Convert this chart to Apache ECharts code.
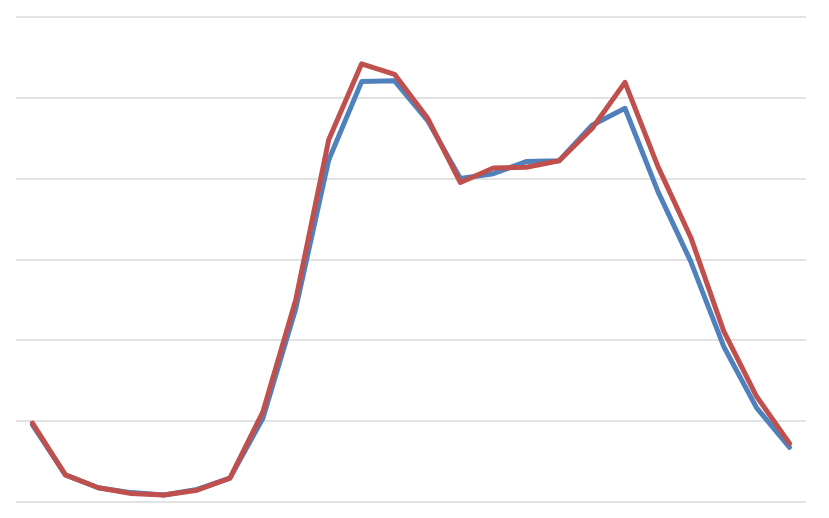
<!DOCTYPE html>
<html>
<head>
<meta charset="utf-8">
<script src="https://cdn.jsdelivr.net/npm/echarts@6/dist/echarts.min.js"></script>
<style>html,body{margin:0;padding:0;background:#fff;}#c{width:829px;height:518px;}</style>
</head>
<body>
<div id="c"></div>
<script>
const categories = ['0','1','2','3','4','5','6','7','8','9','10','11','12','13','14','15','16','17','18','19','20','21','22','23'];
const seriesBlue = [0.95,0.33,0.17,0.11,0.08,0.15,0.29,1.03,2.39,4.23,5.20,5.21,4.72,4.00,4.06,4.21,4.22,4.66,4.87,3.84,2.97,1.92,1.16,0.67];
const seriesRed  = [0.97,0.33,0.17,0.10,0.08,0.14,0.29,1.11,2.50,4.48,5.42,5.29,4.75,3.95,4.13,4.14,4.22,4.62,5.19,4.15,3.27,2.11,1.30,0.72];
const yMin = 0, yMax = 6, yStep = 1;

const chart = echarts.init(document.getElementById('c'));
chart.setOption({
  animation: false,
  backgroundColor: '#ffffff',
  grid: { left: 16, right: 23, top: 17, bottom: 16.5, containLabel: false },
  xAxis: {
    type: 'category', data: categories, boundaryGap: true,
    axisLine: { show: false }, axisTick: { show: false }, axisLabel: { show: false }, splitLine: { show: false }
  },
  yAxis: {
    type: 'value', min: yMin, max: yMax, interval: yStep,
    axisLine: { show: false }, axisTick: { show: false }, axisLabel: { show: false },
    splitLine: { show: true, lineStyle: { color: '#d9d9d9', width: 1.5 } }
  },
  series: [
    { type: 'line', data: seriesBlue, symbol: 'none', lineStyle: { color: '#4F81BD', width: 5, join: 'round', cap: 'round' }, itemStyle: { color: '#4F81BD' } },
    { type: 'line', data: seriesRed, symbol: 'none', lineStyle: { color: '#C0504D', width: 5, join: 'round', cap: 'round' }, itemStyle: { color: '#C0504D' } }
  ]
});
</script>
</body>
</html>
